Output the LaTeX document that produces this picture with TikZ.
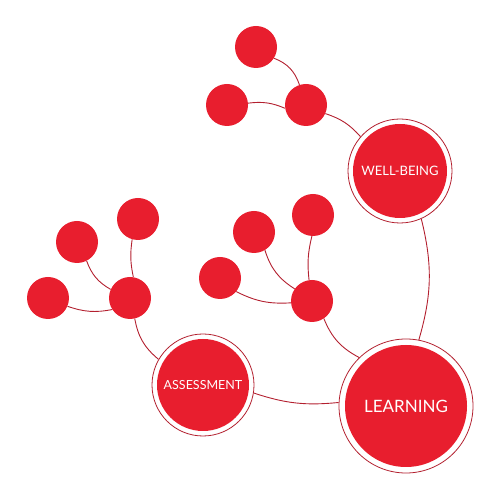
\documentclass[tikz,border=0pt]{standalone}
\usepackage{fontspec}
\setsansfont{Lato}
\definecolor{dotred}{HTML}{E81E2E}
\definecolor{stemred}{HTML}{B3202F}
\tikzset{
  dot/.style={circle, fill=dotred, minimum size=42pt, inner sep=0pt},
  ring/.style={circle, draw=stemred, line width=0.8pt, fill=white, inner sep=0pt},
  core/.style={circle, fill=dotred, text=white, inner sep=0pt, font=\sffamily},
  stem/.style={draw=stemred, line width=0.9pt}
}

\begin{document}
\begin{tikzpicture}[x=1pt, y=1pt]
            \useasboundingbox (0,0) rectangle (500,500);

            % the three big rings
            \node[ring, minimum size=104pt] (wb) at (400,329) {};
            \node[core, minimum size=94pt, font=\sffamily\fontsize{13}{15}\selectfont] at (wb) {WELL-BEING};
            \node[ring, minimum size=102pt] (as) at (203,115) {};
            \node[core, minimum size=92pt, font=\sffamily\fontsize{12.5}{15}\selectfont] at (as) {ASSESSMENT};
            \node[ring, minimum size=134pt] (le) at (406,94) {};
            \node[core, minimum size=122pt, font=\sffamily\fontsize{17}{20}\selectfont] at (le) {LEARNING};

            % small dots
            \foreach \n/\x/\y in {t1/256/453, t2/227/395, t3/306/395,
                l1/138/281, l2/77/258, l3/48/202, l4/130/202,
                m1/313/285, m2/254/268, m3/220/222, m4/312/199} {
                    \node[dot] (\n) at (\x,\y) {};
                }

            % stems: from.angle / to.angle / bend (negative = bend right)
            \foreach \a/\sa/\b/\ea/\ang in {t1/-32/t3/108/25, t2/5/t3/189/15,
                t3/-24/wb/139/15, wb/-66/le/79/15, as/-9/le/177/-12,
                l1/-106/l4/81/-10, l2/-63/l4/156/-20, l3/-23/l4/213/-15,
                l4/-77/as/150/-20, m1/-93/m4/98/-10, m2/-59/m4/145/-20,
                m3/-40/m4/185/-15, m4/-56/le/134/-20} {
                    \draw[stem] (\a.\sa) to[bend left=\ang] (\b.\ea);
                }

        \end{tikzpicture}
\end{document}
